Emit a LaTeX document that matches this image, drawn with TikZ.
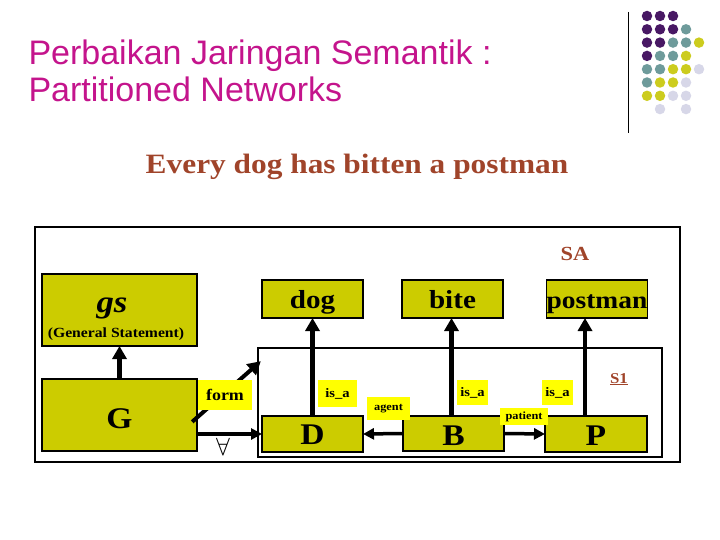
\documentclass[tikz,border=0pt]{standalone}
\usepackage{fontspec}
\setmainfont[FakeStretch=1.12]{Liberation Serif}
\newfontfamily\titlefont{Liberation Sans}
\usepackage{tikz}
\usetikzlibrary{arrows.meta,calc}
\definecolor{boxolive}{RGB}{204,204,0}
\definecolor{tagyellow}{RGB}{255,255,0}
\definecolor{titlemagenta}{RGB}{196,20,140}
\definecolor{subbrown}{RGB}{160,68,42}
\definecolor{dotP}{RGB}{72,24,100}
\definecolor{dotT}{RGB}{110,155,155}
\definecolor{dotY}{RGB}{204,204,30}
\definecolor{dotL}{RGB}{215,215,232}
\newcommand{\px}[1]{\fontsize{#1}{#1}\selectfont}
\tikzset{
	partitioned net/.style={x=1pt, y=-1pt, line join=miter},
	box/.style={draw, line width=1.6pt, fill=boxolive, inner sep=0pt, outer sep=0pt, font=\bfseries, text depth=0pt},
	tag/.style={fill=tagyellow, inner sep=0pt, font=\bfseries},
	space/.style={draw, inner sep=0pt, outer sep=0pt},
	isa/.style={line width=4.5pt, -{Triangle[length=13pt,width=14pt]}},
	rel/.style={line width=3.5pt, -{Triangle[length=11pt,width=11pt]}},
	dot/.style={circle, inner sep=0pt, minimum size=10.5pt},
	% hidden end points of the form arrow
	formend/.style={inner sep=0pt, minimum size=0pt}
}
\begin{document}
\begin{tikzpicture}[partitioned net]
  \useasboundingbox (0,0) rectangle (720,540);
  % heading
  \node[anchor=base west, text=titlemagenta, font=\titlefont\px{34}] (title1) at (25,65) {Perbaikan Jaringan Semantik :};
  \node[anchor=base west, text=titlemagenta, font=\titlefont\px{34}] (title2) at (25,102) {Partitioned Networks};
  \node[anchor=base, text=subbrown, font=\bfseries\px{28}] (sentence) at (357,174) {Every dog has bitten a postman};
  \draw[line width=1pt] (628,12) coordinate (barTop) -- (628,133) coordinate (barBot);
  \foreach \c/\r/\col in {0/0/dotP,1/0/dotP,2/0/dotP,
        0/1/dotP,1/1/dotP,2/1/dotP,3/1/dotT,
        0/2/dotP,1/2/dotP,2/2/dotT,3/2/dotT,4/2/dotY,
        0/3/dotP,1/3/dotT,2/3/dotT,3/3/dotY,
        0/4/dotT,1/4/dotT,2/4/dotY,3/4/dotY,4/4/dotL,
        0/5/dotT,1/5/dotY,2/5/dotY,3/5/dotL,
        0/6/dotY,1/6/dotY,2/6/dotL,3/6/dotL,
        1/7/dotL,3/7/dotL}
    \node[dot, fill=\col] (dot\c\r) at ({647+13*\c},{16+13.3*\r}) {};

  % spaces
  \node[space, line width=1.6pt, anchor=north west, minimum width=645pt, minimum height=235pt] (SA) at (35,227) {};
  \node[space, line width=1.1pt, anchor=north west, minimum width=404pt, minimum height=109pt] (S1) at (258,348) {};
  \node[anchor=base, text=subbrown, font=\bfseries\px{20}] (SAname) at (575,260) {SA};
  \node[anchor=base, text=subbrown, font=\bfseries\px{15}] (S1name) at (619,383) {\underline{S1}};

  % general statement
  \node[box, minimum width=155pt, minimum height=72pt] (gs) at (119.5,310) {};
  \node[anchor=base, font=\bfseries\itshape\px{31}] (gsname) at (112,312) {gs};
  \node[anchor=base, font=\bfseries\px{14}] (gsnote) at (116,337) {(General Statement)};
  \node[box, minimum width=155pt, minimum height=72pt, font=\bfseries\px{30}, text height=26pt] (G) at (119.5,415) {G};

  % concepts
  \node[box, minimum width=101pt, minimum height=38pt, font=\bfseries\px{26}, text height=18pt] (dog) at (312.5,299) {dog};
  \node[box, minimum width=101pt, minimum height=38pt, font=\bfseries\px{26}, text height=18pt] (bite) at (452.5,299) {bite};
  \node[box, minimum width=100pt, minimum height=38pt, font=\bfseries\px{24.5}, text height=18pt] (postman) at (597,299) {postman};
  \node[box, minimum width=101pt, minimum height=36pt, font=\bfseries\px{30}, text height=20pt] (D) at (312.5,434) {D};
  \node[box, minimum width=101pt, minimum height=35pt, font=\bfseries\px{30}, text height=23pt] (B) at (453.5,433.5) {B};
  \node[box, minimum width=102pt, minimum height=36pt, font=\bfseries\px{30}, text height=22pt] (P) at (596,434) {P};

  % links
  \draw[isa] (G.north) -- (G.north |- gs.south);
  \draw[isa] (D.north) -- (D.north |- dog.south);
  \draw[isa] ([xshift=-2pt]B.north) -- ([xshift=-2pt]B.north |- bite.south);
  \draw[isa] ([xshift=-11pt]P.north) -- ([xshift=-11pt]P.north |- postman.south);
  \draw[rel] (G.east |- D.west) -- (D.west);
  \draw[rel] (B.west) -- (D.east);
  \draw[rel] (B.east) -- (P.west);
  \node[formend] (formtail) at (192,422) {};
  \node[formend] (formhead) at (261,361) {};
  \draw[isa, line width=4pt] (formtail) -- (formhead);

  % link labels
  \node[tag, minimum width=54pt, minimum height=30pt, font=\bfseries\px{16}] (form) at (225,395) {form};
  \node[tag, minimum width=39pt, minimum height=27pt, font=\bfseries\px{13}] (isa1) at (337.5,393.5) {is\_a};
  \node[tag, minimum width=31pt, minimum height=25pt, font=\bfseries\px{13}] (isa2) at (472.5,392.5) {is\_a};
  \node[tag, minimum width=31pt, minimum height=25pt, font=\bfseries\px{13}] (isa3) at (557.5,392.5) {is\_a};
  \node[tag, minimum width=43pt, minimum height=23pt, font=\bfseries\px{11}] (agent) at (388.5,408.5) {agent};
  \node[tag, minimum width=48pt, minimum height=17pt, font=\bfseries\px{11}] (patient) at (524,416.5) {patient};
  \node[font=\px{26}] (forall) at (223,447) {$\forall$};
\end{tikzpicture}
\end{document}
